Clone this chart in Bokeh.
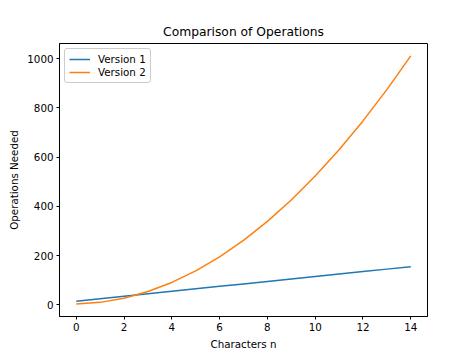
from bokeh.plotting import figure
from bokeh.models import Range1d, FixedTicker, Legend, LegendItem
from bokeh.embed import file_html
from bokeh.resources import INLINE

n = [0, 1, 2, 3, 4, 5, 6, 7, 8, 9, 10, 11, 12, 13, 14]
version1 = [15, 25, 35, 45, 55, 65, 75, 85, 95, 105, 115, 125, 135, 145, 155]
version2 = [3, 10, 27, 54, 91, 138, 195, 262, 339, 426, 523, 630, 747, 874, 1011]
x_ticks = [0, 2, 4, 6, 8, 10, 12, 14]
y_ticks = [0, 200, 400, 600, 800, 1000]

FONT = "DejaVu Sans"

p = figure(frame_width=368, frame_height=273, output_backend="svg", toolbar_location=None,
           x_range=Range1d(-0.7, 14.7), y_range=Range1d(-47.4, 1061.4),
           min_border_left=59, min_border_right=27, min_border_top=43, min_border_bottom=30)

p.title.text = "Comparison of Operations"
p.title.align = "center"
p.title.text_font = FONT
p.title.text_font_size = "12.3px"
p.title.text_font_style = "normal"
p.title.text_color = "black"

p.grid.visible = False
p.outline_line_color = "black"
p.outline_line_width = 1

for ax, ticks, label in ((p.xaxis, x_ticks, "Characters n"), (p.yaxis, y_ticks, "Operations Needed")):
    ax.ticker = FixedTicker(ticks=ticks)
    ax.axis_label = label
    ax.axis_label_text_font = FONT
    ax.axis_label_text_font_size = "10.3px"
    ax.axis_label_text_font_style = "normal"
    ax.axis_label_text_color = "black"
    ax.major_label_text_font = FONT
    ax.major_label_text_font_size = "10.3px"
    ax.major_label_text_color = "black"
    ax.minor_tick_line_color = None
    ax.major_tick_in = 0
    ax.major_tick_out = 3
    ax.major_tick_line_color = "black"
    ax.axis_line_color = "black"
    ax.major_label_standoff = 3
    ax.axis_label_standoff = 4

r1 = p.line(n, version1, line_color="#1f77b4", line_width=1.5)
r2 = p.line(n, version2, line_color="#ff7f0e", line_width=1.5)

legend = Legend(items=[LegendItem(label="Version 1", renderers=[r1]),
                       LegendItem(label="Version 2", renderers=[r2])],
                location="top_left")
legend.label_text_font = FONT
legend.label_text_font_size = "10.3px"
legend.label_text_color = "black"
legend.border_line_color = "#cccccc"
legend.border_line_alpha = 1
legend.border_radius = 3
legend.glyph_width = 21
legend.glyph_height = 12
legend.label_standoff = 8
legend.padding = 4
legend.spacing = 1
legend.margin = 5
legend.label_height = 12
p.add_layout(legend)

open("out.html", "w").write(file_html(p, INLINE))
